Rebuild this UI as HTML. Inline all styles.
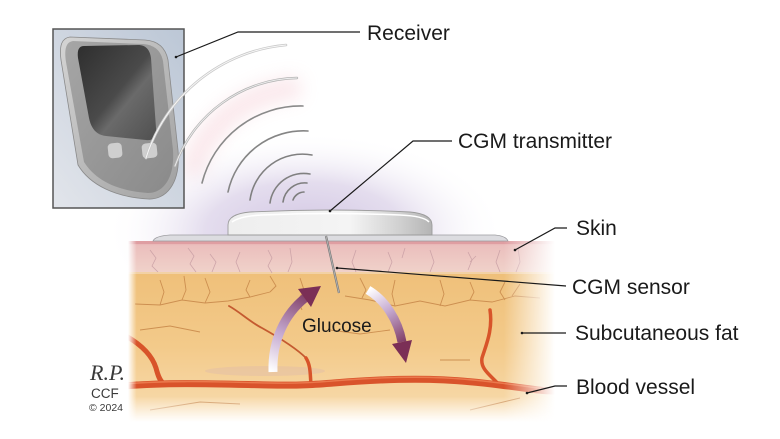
<!DOCTYPE html>
<html><head><meta charset="utf-8"><style>
html,body{margin:0;padding:0;background:#fff;}
svg{display:block;}
text{font-family:"Liberation Sans",Arial,sans-serif;}
</style></head><body>
<svg width="780" height="439" viewBox="0 0 780 439" xmlns="http://www.w3.org/2000/svg">
<defs>
  <radialGradient id="glow" cx="305" cy="232" r="200" gradientUnits="userSpaceOnUse" gradientTransform="translate(305 232) scale(1 0.5) translate(-305 -232)">
    <stop offset="0" stop-color="#d2c6e3"/>
    <stop offset="0.5" stop-color="#e4ddee"/>
    <stop offset="1" stop-color="#ffffff" stop-opacity="0"/>
  </radialGradient>
  <linearGradient id="boxg" x1="1" y1="0" x2="0" y2="1">
    <stop offset="0" stop-color="#bcc7d6"/>
    <stop offset="1" stop-color="#e2e5eb"/>
  </linearGradient>
  <linearGradient id="bodyg" x1="0" y1="0" x2="1" y2="1">
    <stop offset="0" stop-color="#a6a6a6"/>
    <stop offset="1" stop-color="#8a8a8a"/>
  </linearGradient>
  <linearGradient id="rimg" x1="0" y1="0" x2="1" y2="1">
    <stop offset="0" stop-color="#d4d4d4"/>
    <stop offset="1" stop-color="#a0a0a0"/>
  </linearGradient>
  <linearGradient id="scrg" x1="0" y1="0" x2="1" y2="1">
    <stop offset="0" stop-color="#2e2e2e"/>
    <stop offset="0.5" stop-color="#4a4a4a"/>
    <stop offset="0.62" stop-color="#6a6a6a"/>
    <stop offset="1" stop-color="#505050"/>
  </linearGradient>
  <linearGradient id="discg" x1="0" y1="0" x2="1" y2="0">
    <stop offset="0" stop-color="#eeeeee"/>
    <stop offset="0.6" stop-color="#f4f4f4"/>
    <stop offset="0.85" stop-color="#cfcfcf"/>
    <stop offset="1" stop-color="#b4b4b4"/>
  </linearGradient>
  <linearGradient id="skin" x1="0" y1="241" x2="0" y2="273" gradientUnits="userSpaceOnUse">
    <stop offset="0" stop-color="#e4a6a8"/>
    <stop offset="0.15" stop-color="#ebbfbd"/>
    <stop offset="1" stop-color="#f0d2ca"/>
  </linearGradient>
  <linearGradient id="fat" x1="0" y1="273" x2="0" y2="420" gradientUnits="userSpaceOnUse">
    <stop offset="0" stop-color="#efc07a"/>
    <stop offset="0.5" stop-color="#f3ca8a"/>
    <stop offset="1" stop-color="#f8dcb0"/>
  </linearGradient>
  <linearGradient id="fh" x1="128" y1="0" x2="555" y2="0" gradientUnits="userSpaceOnUse">
    <stop offset="0" stop-color="#000"/>
    <stop offset="0.02" stop-color="#fff"/>
    <stop offset="0.88" stop-color="#fff"/>
    <stop offset="1" stop-color="#000"/>
  </linearGradient>
  <linearGradient id="fv" x1="0" y1="240" x2="0" y2="422" gradientUnits="userSpaceOnUse">
    <stop offset="0" stop-color="#fff"/>
    <stop offset="0.86" stop-color="#fff"/>
    <stop offset="1" stop-color="#000"/>
  </linearGradient>
  <mask id="mh" maskUnits="userSpaceOnUse" x="0" y="0" width="780" height="439"><rect x="0" y="0" width="780" height="439" fill="url(#fh)"/></mask>
  <mask id="mv" maskUnits="userSpaceOnUse" x="0" y="0" width="780" height="439"><rect x="0" y="0" width="780" height="439" fill="url(#fv)"/></mask>
  <linearGradient id="upg" x1="273" y1="372" x2="312" y2="295" gradientUnits="userSpaceOnUse">
    <stop offset="0" stop-color="#ffffff"/>
    <stop offset="0.45" stop-color="#c4a8cf"/>
    <stop offset="1" stop-color="#7e3a62"/>
  </linearGradient>
  <linearGradient id="dng" x1="368" y1="290" x2="402" y2="345" gradientUnits="userSpaceOnUse">
    <stop offset="0" stop-color="#ffffff"/>
    <stop offset="0.45" stop-color="#c4a8cf"/>
    <stop offset="1" stop-color="#7e3a62"/>
  </linearGradient>
  <filter id="blur8" x="-50%" y="-50%" width="200%" height="200%"><feGaussianBlur stdDeviation="9"/></filter>
</defs>

<rect x="0" y="0" width="780" height="439" fill="#fff"/>

<!-- lavender glow around transmitter -->
<ellipse cx="305" cy="232" rx="200" ry="100" fill="url(#glow)"/>

<!-- pink glow along waves -->
<path d="M190 175 A 118 118 0 0 1 300 88" fill="none" stroke="#f2bcc6" stroke-width="22" opacity="0.35" filter="url(#blur8)"/>

<!-- Receiver box -->
<rect x="53" y="29" width="131" height="179" fill="url(#boxg)" stroke="#555" stroke-width="1.5"/>
<path d="M70 37 L145 40 C160 41 166 50 168 60 L178 150 C181 185 165 200 148 199 C115 197 90 185 78 165 L61 60 C59 45 62 38 70 37 Z" fill="url(#rimg)" stroke="#8a8a8a" stroke-width="0.8"/>
<path d="M73 41 L143 44 C156 45 161 52 163 61 L173 150 C175 180 162 193 148 193 C118 191 96 181 84 162 L66 62 C64 49 66 42 73 41 Z" fill="url(#bodyg)"/>
<path d="M84 46 L138 45 C146 45 150 50 151 58 L156 128 C157 137 153 141 146 140 L106 136 C96 135 91 128 89 118 L78 58 C77 50 79 46 84 46 Z" fill="url(#scrg)"/>
<rect x="108" y="143" width="14" height="15" rx="4" fill="#cfcfcf" transform="rotate(-6 115 150)"/>
<rect x="142" y="143" width="15" height="15" rx="4" fill="#cfcfcf" transform="rotate(-6 150 150)"/>

<!-- waves -->
<g fill="none" stroke-linecap="round">
  <path d="M146 158 A 162 162 0 0 1 286 45" stroke="#c9c9c9" stroke-width="2.6"/>
  <path d="M146 158 A 162 162 0 0 1 286 45" stroke="#f7f7f7" stroke-width="1"/>
  <path d="M175 166 A 132 132 0 0 1 297 78" stroke="#b4b4b4" stroke-width="2.4"/>
  <path d="M175 166 A 132 132 0 0 1 297 78" stroke="#eeeeee" stroke-width="0.9"/>
  <path d="M202 183 A 102 102 0 0 1 303 106" stroke="#8a8a8a" stroke-width="1.6"/>
  <path d="M228 192 A 77 77 0 0 1 308 131" stroke="#858585" stroke-width="1.6"/>
  <path d="M250 200 A 53 53 0 0 1 312 155" stroke="#808080" stroke-width="1.6"/>
  <path d="M270 203 A 34 34 0 0 1 310 174" stroke="#808080" stroke-width="1.6"/>
  <path d="M283 202 A 22 22 0 0 1 307 183" stroke="#7d7d7d" stroke-width="1.6"/>
  <path d="M293 200 A 12 12 0 0 1 304 192" stroke="#7d7d7d" stroke-width="1.6"/>
</g>

<!-- tissue -->
<g mask="url(#mh)"><g mask="url(#mv)">
  <rect x="120" y="241" width="450" height="32" fill="url(#skin)"/>
  <rect x="120" y="241" width="450" height="3" fill="#df9ea2"/>
  <rect x="120" y="272" width="450" height="160" fill="url(#fat)"/>
  <rect x="120" y="272" width="450" height="2" fill="#f2d4b0" opacity="0.8"/>
  <ellipse cx="265" cy="371" rx="60" ry="5" fill="#cfaab8" opacity="0.25"/>
  <g fill="none" stroke="#c89ea4" stroke-width="0.8" opacity="0.85">
    <path d="M150 250 L156 258 L152 266 L158 272"/>
    <path d="M188 248 L194 256 L190 264 L196 272"/>
    <path d="M210 254 L216 262 L212 272"/>
    <path d="M240 252 L236 262 L240 272"/>
    <path d="M268 250 L272 258 L268 266 L272 273"/>
    <path d="M290 248 L292 262 L288 272"/>
    <path d="M356 250 L352 262 L356 272"/>
    <path d="M388 252 L392 262 L388 272"/>
    <path d="M405 248 L402 258"/>
    <path d="M430 250 L434 262 L430 272"/>
    <path d="M468 252 L472 260 L468 270"/>
    <path d="M476 256 L470 262"/>
    <path d="M500 250 L496 262 L500 272"/>
    <path d="M518 248 L520 262 L516 272"/>
  </g>
  <g fill="none" stroke="#c98a4c" stroke-width="0.9" opacity="0.9">
    <path d="M135 304 L160 305 L182 300 L205 303 L228 301 L250 297 L270 292"/>
    <path d="M160 280 L164 292 L160 305"/>
    <path d="M184 276 L186 290 L182 300"/>
    <path d="M205 278 L210 292 L205 303"/>
    <path d="M250 280 L246 290 L250 297"/>
    <path d="M270 276 L276 286 L270 292"/>
    <path d="M300 278 L304 290 L298 300 L302 310"/>
    <path d="M345 296 L370 300 L395 306 L420 301 L445 306 L470 300 L492 302 L515 296 L540 298"/>
    <path d="M360 278 L366 290 L362 298"/>
    <path d="M395 280 L392 294 L395 306"/>
    <path d="M440 280 L444 294 L440 306"/>
    <path d="M470 282 L474 292 L470 300"/>
    <path d="M505 282 L500 292 L505 300"/>
    <path d="M520 284 L512 296"/>
    <path d="M140 330 L170 326 L200 332"/>
    <path d="M330 330 L360 334 L390 330"/>
    <path d="M440 360 L470 360"/>
    <path d="M150 410 L200 402 L240 404"/>
    <path d="M470 410 L520 398"/>
  </g>
  <g fill="none" stroke-linecap="round">
    <path d="M229 306 C240 312 250 322 262 328 C278 337 296 348 306 358" stroke="#c45a30" stroke-width="1.8"/>
    <path d="M306 358 C311 366 310 375 311 384" stroke="#d8542a" stroke-width="3.5"/>
    <path d="M490 310 C493 330 486 345 482 358 C480 370 492 376 500 386" stroke="#d8542a" stroke-width="3.5"/>
    <path d="M126 336 C140 344 152 355 156 368 C158 376 160 381 164 384" stroke="#d8542a" stroke-width="5"/>
    <path d="M124 386 C170 382 220 384 270 385 S330 382 380 380 S460 380 500 385 S540 391 560 391" stroke="#d9532b" stroke-width="7"/>
    <path d="M124 384 C170 380 220 382 270 383 S330 380 380 378 S460 378 500 383 S540 389 560 389" stroke="#f28a5c" stroke-width="1.4" opacity="0.7"/>
  </g>
</g></g>

<!-- base plate -->
<path d="M153 241 Q155 236 170 235 L495 235 Q506 236 508 241 Z" fill="#dcdce0" stroke="#9a9a9e" stroke-width="0.8"/>
<!-- transmitter disc -->
<path d="M228 235 L228 225 Q228 214 250 212 Q330 208 410 212 Q432 214 432 225 L432 235 Z" fill="url(#discg)" stroke="#9c9c9c" stroke-width="0.9"/>
<path d="M232 222 Q240 216 262 215 Q330 212 400 215 Q424 216 429 222" fill="none" stroke="#ffffff" stroke-width="1.5"/>

<!-- sensor -->
<line x1="326" y1="236" x2="339" y2="293" stroke="#7a7a7a" stroke-width="2.2"/>
<line x1="326" y1="236" x2="339" y2="293" stroke="#b8b8b8" stroke-width="0.8"/>

<!-- glucose arrows -->
<path d="M273 372 C272 340 285 314 305 298" fill="none" stroke="url(#upg)" stroke-width="9"/>
<polygon points="321,286 311,307 298,289" fill="#7b2f56"/>
<path d="M368 290 C385 300 398 320 402 342" fill="none" stroke="url(#dng)" stroke-width="9"/>
<polygon points="406,363 412,340 392,344" fill="#7b2f56"/>
<text x="302" y="332" font-size="19" fill="#1a1a1a">Glucose</text>

<!-- leader lines -->
<g fill="none" stroke="#1a1a1a" stroke-width="1.2">
  <path d="M176 57 L238 32 L360 32"/>
  <path d="M330 211 L413 141 L452 141"/>
  <path d="M515 250 L555 228 L567 228"/>
  <path d="M337 268 L566 286"/>
  <path d="M522 333 L566 333"/>
  <path d="M527 393 L555 386 L567 386"/>
</g>
<g fill="#1a1a1a">
  <circle cx="176" cy="57" r="1.3"/>
  <circle cx="330" cy="211" r="1.3"/>
  <circle cx="515" cy="250" r="1.3"/>
  <circle cx="337" cy="268" r="1.3"/>
  <circle cx="522" cy="333" r="1.3"/>
  <circle cx="527" cy="393" r="1.3"/>
</g>

<!-- labels -->
<g font-size="21" fill="#1a1a1a">
  <text x="367" y="40">Receiver</text>
  <text x="458" y="148">CGM transmitter</text>
  <text x="576" y="235">Skin</text>
  <text x="572" y="294">CGM sensor</text>
  <text x="575" y="340">Subcutaneous fat</text>
  <text x="576" y="394">Blood vessel</text>
</g>

<!-- signature -->
<text x="90" y="380" font-size="22" font-style="italic" fill="#3a3a3a" style="font-family:'Liberation Serif',serif">R.P.</text>
<text x="91" y="398" font-size="13.5" fill="#3a3a3a">CCF</text>
<text x="89" y="411" font-size="10.5" fill="#3a3a3a">© 2024</text>
</svg>
</body></html>
